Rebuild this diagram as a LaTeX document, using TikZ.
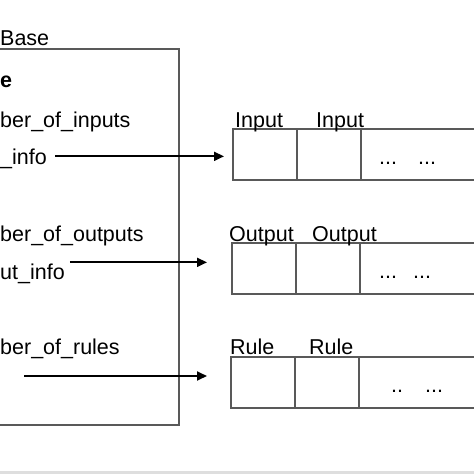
\documentclass[tikz,border=0pt]{standalone}
\usepackage{fontspec}
\setmainfont{Liberation Sans}
\usetikzlibrary{positioning,arrows.meta}

\begin{document}
\begin{tikzpicture}[x=1pt, y=-1pt, font=\fontsize{21.5}{25}\selectfont,
  cell/.style={draw=black!65, line width=1.1pt, minimum width=64pt, minimum height=51pt, inner sep=0pt, outer sep=0pt},
  lastcell/.style={cell, minimum width=140pt},
  field/.style={anchor=base west, inner sep=0pt},
  link/.style={-{Triangle[length=10pt, width=9pt]}, line width=1.8pt}]
  \useasboundingbox (0,0) rectangle (474,474);
  \clip (0,0) rectangle (474,474);

  % strip along the bottom
  \fill[black!13] (0,471) rectangle (474,474);

  % Base structure (cut at the left edge)
  \draw[draw=black!65, line width=1.1pt] (-10,49) rectangle (179,425);
  \node[field] (title) at (0,45) {Base};
  \node[field, font=\fontsize{21.5}{25}\selectfont\bfseries] (kind) at (0,87) {e};
  \node[field] (nIn) at (0,127) {ber\_of\_inputs};
  \node[field] (inInfo) at (0,164) {\_info};
  \node[field] (nOut) at (0,241) {ber\_of\_outputs};
  \node[field] (outInfo) at (0,279) {ut\_info};
  \node[field] (nRule) at (0,354) {ber\_of\_rules};
  \coordinate (ruleFrom) at (24,376);

  % Input array
  \node[cell, anchor=north west] (inA) at (233,129) {};
  \node[cell, right=0pt of inA] (inB) {};
  \node[lastcell, right=0pt of inB] (inC) {};
  \node[field] (inLabA) at (235,127) {Input};
  \node[field] (inLabB) at (316,127) {Input};
  \node[field] (inDotsA) at (379,164) {...};
  \node[field] (inDotsB) at (418,164) {...};

  % Output array
  \node[cell, anchor=north west] (outA) at (232,243) {};
  \node[cell, right=0pt of outA] (outB) {};
  \node[lastcell, right=0pt of outB] (outC) {};
  \node[field] (outLabA) at (229,241) {Output};
  \node[field] (outLabB) at (312,241) {Output};
  \node[field] (outDotsA) at (379,278) {...};
  \node[field] (outDotsB) at (413,278) {...};

  % Rule array
  \node[cell, anchor=north west] (ruleA) at (231,357) {};
  \node[cell, right=0pt of ruleA] (ruleB) {};
  \node[lastcell, right=0pt of ruleB] (ruleC) {};
  \node[field] (ruleLabA) at (230,354) {Rule};
  \node[field] (ruleLabB) at (309,354) {Rule};
  \node[field] (ruleDotsA) at (391,392) {..};
  \node[field] (ruleDotsB) at (425,392) {...};

  % pointers into the arrays
  \coordinate (inFrom) at ([shift={(8pt,2pt)}]inInfo.east);
  \coordinate (outFrom) at ([shift={(5pt,11pt)}]outInfo.east);
  \draw[link] (inFrom) -- ([xshift=-9pt]inFrom -| inA.west);
  \draw[link] (outFrom) -- ([xshift=-25pt]outFrom -| outA.west);
  \draw[link] (ruleFrom) -- ([xshift=-24pt]ruleFrom -| ruleA.west);

\end{tikzpicture}
\end{document}
